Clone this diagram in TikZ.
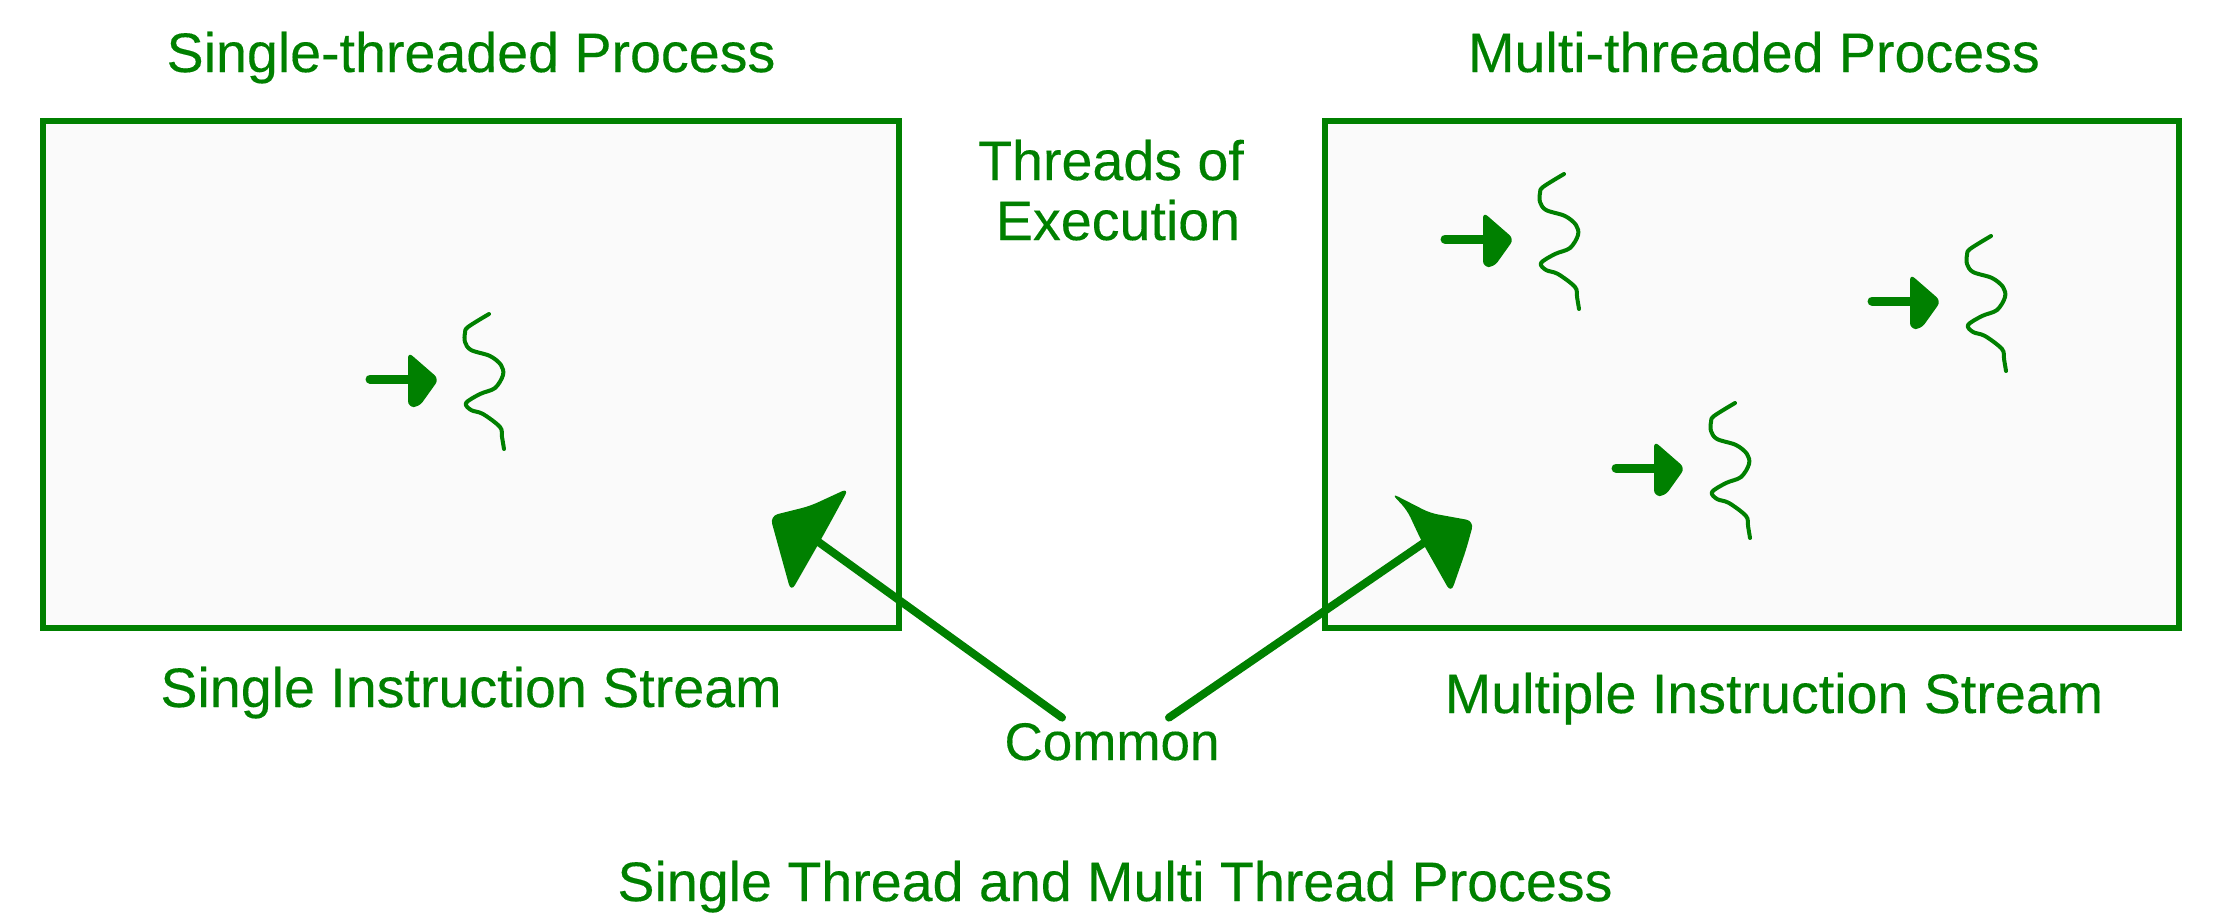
\documentclass[tikz,border=0pt]{standalone}
\usepackage{fontspec}
\setmainfont[FakeBold=0.25]{Liberation Sans}
\definecolor{threadgreen}{HTML}{008000}
\definecolor{boxgray}{HTML}{FAFAFA}
\tikzset{
  label/.style={text=threadgreen,font=\fontsize{27.8}{30}\selectfont,anchor=base,inner sep=0pt},
  procbox/.style={draw=threadgreen,fill=boxgray,line width=3.2pt,minimum width=428pt,minimum height=253.5pt},
  pointer/.style={draw=threadgreen,line width=4pt,line cap=round},
  blob/.style={fill=threadgreen,rounded corners=4pt}
}
\begin{document}
\begin{tikzpicture}[x=0.5pt,y=-0.5pt]
  \useasboundingbox (0,0) rectangle (2220,912);
  \node[procbox] (singlebox) at (471,374.5) {};
  \node[procbox,minimum width=427pt] (multibox) at (1752,374.5) {};
  \node[label] (singletitle) at (471,72) {Single-threaded Process};
  \node[label] (multititle) at (1754,72) {Multi-threaded Process};
  \node[label] (threadsof) at (1111,180) {Threads of};
  \node[label] (execution) at (1118,240) {Execution};
  \node[label] (singlestream) at (471,707) {Single Instruction Stream};
  \node[label] (multistream) at (1774,713) {Multiple Instruction Stream};
  \node[label,inner sep=2.5pt,font=\fontsize{26.5}{30}\selectfont] (common) at (1112,760) {Common};
  \node[label] (caption) at (1115,901) {Single Thread and Multi Thread Process};
  \foreach \px/\py in {367/379,1442/239,1869/301,1613/468}{
    \begin{scope}[shift={(\px,\py)}]
      \draw[threadgreen,line width=4.5pt,line cap=round] (3,0) -- (48,0);
      \fill[blob,rounded corners=3pt] (41,-27) -- (72,0) -- (52,28) -- (41,28) -- cycle;
      \draw[threadgreen,line width=2pt,line cap=round,line join=round] plot[smooth,tension=0.55] coordinates {(122,-65) (101,-52) (98,-46) (98,-37) (104,-29) (123,-23) (134,-14) (136,-4) (128,9) (113,15) (99,24) (104,31) (116,35) (133,48) (135,58) (137,70)};
    \end{scope}
  }
  \coordinate (singlehead) at (813,538);
  \coordinate (multihead) at (1428,540);
  \fill[blob] (849,488) -- (810,506) -- (770,516) -- (778,545) -- (791,592) -- (819,543) -- (835,514) -- cycle;
  \fill[blob] (1391,493) -- (1430,513) -- (1474,521) -- (1466,550) -- (1451,593) -- (1421,540) -- (1407,510) -- cycle;
  \draw[pointer] ([xshift=-25pt]common.north) -- (singlehead);
  \draw[pointer] ([xshift=28.5pt]common.north) -- (multihead);
\end{tikzpicture}
\end{document}
